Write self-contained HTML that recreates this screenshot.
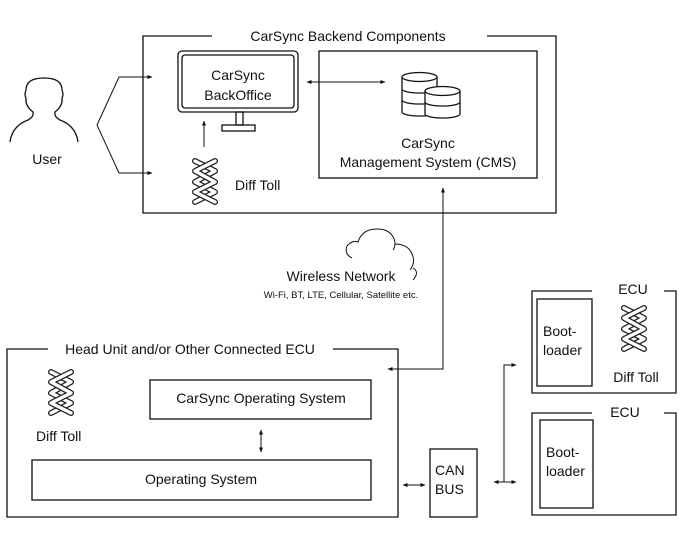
<!DOCTYPE html>
<html><head><meta charset="utf-8"><style>
html,body{margin:0;padding:0;background:#fff;}
svg{display:block;}
text{font-family:"Liberation Sans",sans-serif;fill:#111;}
</style></head><body>
<svg width="694" height="545" viewBox="0 0 694 545" xmlns="http://www.w3.org/2000/svg">
<defs>
<marker id="a" viewBox="0 0 10 10" refX="9" refY="5" markerWidth="5" markerHeight="5" orient="auto-start-reverse"><path d="M0,1 L10,5 L0,9 z" fill="#111"/></marker>
<g id="spring" fill="none" stroke-linejoin="round" stroke-linecap="round">
<path d="M5,4 L25,14 L5,25 L25,35 L5,45" stroke="#222" stroke-width="6"/>
<path d="M5,4 L25,14 L5,25 L25,35 L5,45" stroke="#fff" stroke-width="3.4"/>
<path d="M25,4 L5,14 L25,25 L5,35 L25,45" stroke="#222" stroke-width="6"/>
<path d="M25,4 L5,14 L25,25 L5,35 L25,45" stroke="#fff" stroke-width="3.4"/>
</g>
</defs>
<g fill="none" stroke="#111" stroke-width="1.3">
<path d="M212,36 H143 V213 H556 V36 H487"/>
<rect x="178" y="51" width="120" height="61" rx="4"/>
<rect x="182" y="55" width="112" height="53" rx="3"/>
<rect x="236" y="112" width="7" height="13"/>
<rect x="222" y="125" width="33" height="6"/>
<rect x="319" y="51" width="218" height="127"/>
<path d="M402,77 V112 A17.5,4 0 0 0 437,112 V77"/>
<ellipse cx="419.5" cy="77" rx="17.5" ry="4.5" fill="#fff"/>
<path d="M402,89 A17.5,4 0 0 0 437,89 M402,100 A17.5,4 0 0 0 437,100"/>
<path d="M425,91 V114 A17.5,4 0 0 0 460,114 V91 Z" fill="#fff" stroke="none"/>
<path d="M425,91 V114 A17.5,4 0 0 0 460,114 V91"/>
<ellipse cx="442.5" cy="91" rx="17.5" ry="4.5" fill="#fff"/>
<path d="M425,102 A17.5,4 0 0 0 460,102"/>
<path d="M307,82 H385" marker-start="url(#a)" marker-end="url(#a)" stroke-width="1"/>
<path d="M10,142 Q12,126 28,120 Q34,117 33,112 Q25,106 26,98 Q24,95 26,90 Q26,78 44,78 Q62,78 62,90 Q64,95 62,98 Q63,106 55,112 Q54,117 60,120 Q76,126 78,142"/>
<path d="M97,125 L119,77 H152" marker-end="url(#a)" stroke-width="1"/>
<path d="M97,125 L119,173 H152" marker-end="url(#a)" stroke-width="1"/>
<path d="M204,147 V121" marker-end="url(#a)" stroke-width="1"/>
<path d="M443,188 V369 H388" marker-start="url(#a)" marker-end="url(#a)" stroke-width="1"/>
<path d="M352,258 Q344,254 347,246 Q352,240 358,242 Q362,229 377,229 Q392,229 395,242 Q395,248 393,250 M395,244 Q408,244 412,254 Q416,262 410,270 M413,268 Q420,272 413,280" stroke-width="1"/>
<path d="M48,349 H7 V517 H398 V349 H333"/>
<rect x="150" y="380" width="221" height="39"/>
<rect x="32" y="460" width="339" height="40"/>
<path d="M261,430 V452" marker-start="url(#a)" marker-end="url(#a)" stroke-width="1"/>
<path d="M403,485 H425" marker-start="url(#a)" marker-end="url(#a)" stroke-width="1"/>
<rect x="430" y="449" width="47" height="68"/>
<path d="M494,482 H516" marker-start="url(#a)" marker-end="url(#a)" stroke-width="1"/>
<path d="M504,482 V365 H516" marker-end="url(#a)" stroke-width="1"/>
<path d="M592,291 H532 V393 H676 V291 H664"/>
<rect x="537" y="299" width="55" height="87"/>
<path d="M592,413 H532 V515 H676 V413 H664"/>
<rect x="540" y="420" width="53" height="88"/>
</g>
<use href="#spring" x="190" y="157"/>
<use href="#spring" x="46" y="368"/>
<use href="#spring" x="619" y="304"/>
<g font-size="14">
<text x="348" y="41" text-anchor="middle">CarSync Backend Components</text>
<text x="238" y="80" text-anchor="middle">CarSync</text>
<text x="238" y="100" text-anchor="middle">BackOffice</text>
<text x="428" y="148" text-anchor="middle">CarSync</text>
<text x="428" y="167" text-anchor="middle">Management System (CMS)</text>
<text x="47" y="164" text-anchor="middle">User</text>
<text x="235" y="190">Diff Toll</text>
<text x="341" y="281" text-anchor="middle">Wireless Network</text>
<text x="190" y="354" text-anchor="middle">Head Unit and/or Other Connected ECU</text>
<text x="36" y="441">Diff Toll</text>
<text x="261" y="403" text-anchor="middle">CarSync Operating System</text>
<text x="201" y="484" text-anchor="middle">Operating System</text>
<text x="435" y="475">CAN</text>
<text x="435" y="494">BUS</text>
<text x="633" y="294" text-anchor="middle">ECU</text>
<text x="543" y="336">Boot-</text>
<text x="543" y="355">loader</text>
<text x="636" y="382" text-anchor="middle">Diff Toll</text>
<text x="625" y="417" text-anchor="middle">ECU</text>
<text x="546" y="457">Boot-</text>
<text x="546" y="476">loader</text>
</g>
<text x="341" y="298" text-anchor="middle" font-size="9.5">Wi-Fi,  BT, LTE, Cellular, Satellite etc.</text>
</svg>
</body></html>
